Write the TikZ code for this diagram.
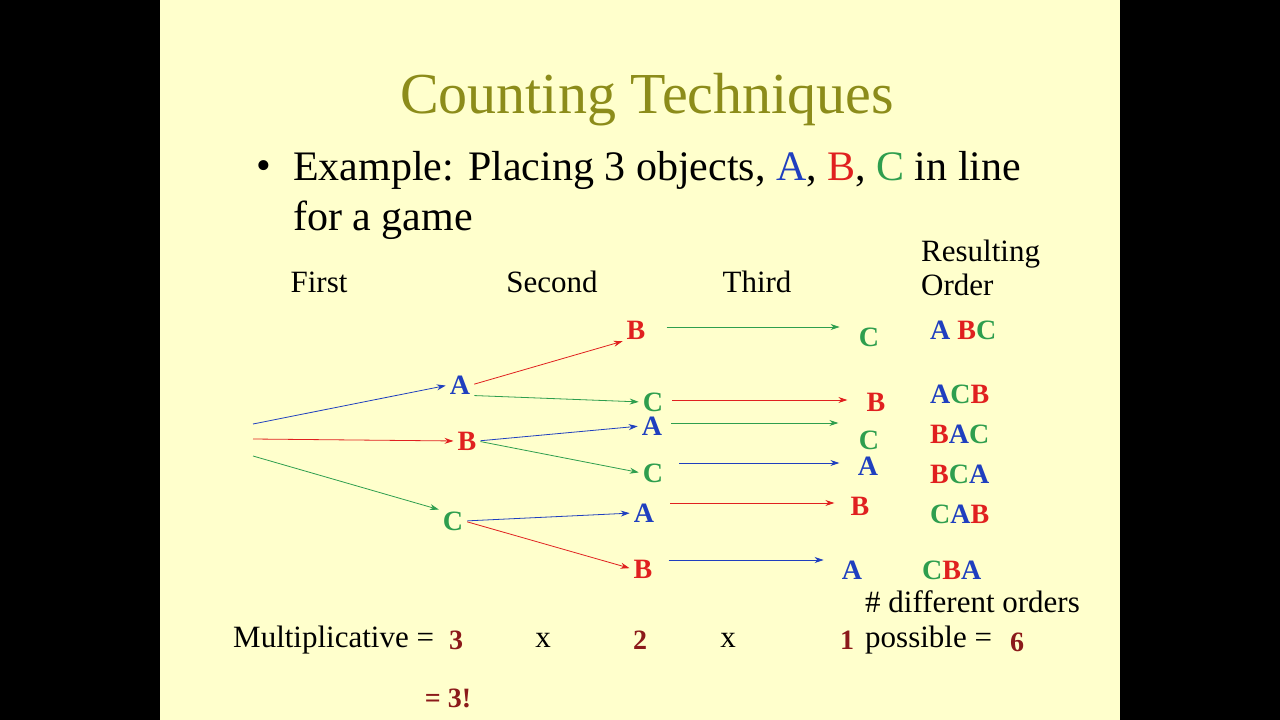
\documentclass[tikz,border=0pt]{standalone}
\usepackage{fontspec}
\setmainfont{Liberation Serif}
\usetikzlibrary{arrows.meta}
\definecolor{bg}{HTML}{FFFFCC}
\definecolor{olive}{HTML}{8C8C1A}
\definecolor{cb}{HTML}{1F3FBF}
\definecolor{cr}{HTML}{E0201F}
\definecolor{cg}{HTML}{2E9E4E}
\definecolor{dr}{HTML}{8B1A1A}
\begin{document}
\begin{tikzpicture}[x=1pt,y=-1pt,
  L/.style={font=\fontsize{28}{30}\selectfont\bfseries,inner sep=1pt},
  T/.style={font=\fontsize{31}{34}\selectfont,inner sep=0pt},
  B/.style={font=\fontsize{42}{46}\selectfont,inner sep=0pt,anchor=west},
  ar/.style={-{Stealth[length=9pt,width=6pt]},line width=0.8pt,shorten >=3pt,shorten <=3pt}]
\useasboundingbox (0,0) rectangle (1280,720);
\fill[black] (0,0) rectangle (1280,720);
\fill[bg] (160,0) rectangle (1120,720);
\node[text=olive,font=\fontsize{58}{62}\selectfont] (title) at (647,100) {Counting Techniques};
\node[B] (bul) at (256,170) {•};
\node[B] (b1) at (293,170) {Example: Placing 3 objects, \textcolor{cb}{A}, \textcolor{cr}{B}, \textcolor{cg}{C} in line};
\node[B] (b2) at (293,220) {for a game};
\node[T] (h1) at (319,282) {First};
\node[T] (h2) at (552,282) {Second};
\node[T] (h3) at (757,282) {Third};
\node[T,anchor=west,align=left] (h4) at (921,268) {Resulting\\Order};
\coordinate (r1) at (253,424);\coordinate (r2) at (253,439);\coordinate (r3) at (253,456);
\node[L,text=cb] (A1) at (460,385) {A};
\node[L,text=cr] (B1) at (467,441) {B};
\node[L,text=cg] (C1) at (453,521) {C};
\node[L,text=cr] (s1) at (636,330) {B};
\node[L,text=cg] (s2) at (653,402) {C};
\node[L,text=cb] (s3) at (652,426) {A};
\node[L,text=cg] (s4) at (653,473) {C};
\node[L,text=cb] (s5) at (644,513) {A};
\node[L,text=cr] (s6) at (643,569) {B};
\node[L,text=cg] (t1) at (869,337) {C};
\node[L,text=cr] (t2) at (876,402) {B};
\node[L,text=cg] (t3) at (869,440) {C};
\node[L,text=cb] (t4) at (868,466) {A};
\node[L,text=cr] (t5) at (860,506) {B};
\node[L,text=cb] (t6) at (852,570) {A};
\draw[ar,cb,shorten <=0pt] (r1) -- (A1.west);
\draw[ar,cr,shorten <=0pt] (r2) -- (B1.west);
\draw[ar,cg,shorten <=0pt] (r3) -- (C1.north west);
\draw[ar,cr] (A1.east) -- (s1.south west);
\draw[ar,cg] (A1.south east) -- (s2.west);
\draw[ar,cb] (B1.east) -- (s3.west);
\draw[ar,cg] (B1.east) -- (s4.west);
\draw[ar,cb] (C1.east) -- (s5.west);
\draw[ar,cr] (C1.east) -- (s6.west);
\draw[ar,cg,shorten <=0pt] (s1.east) ++(20,-3) -- ++(176,0);
\draw[ar,cr,shorten <=0pt] (s2.east) ++(8,-2) -- ++(178,0);
\draw[ar,cg,shorten <=0pt] (s3.east) ++(8,-3) -- ++(170,0);
\draw[ar,cb,shorten <=0pt] (s4.east) ++(15,-10) -- ++(163,0);
\draw[ar,cr,shorten <=0pt] (s5.east) ++(15,-10) -- ++(167,0);
\draw[ar,cb,shorten <=0pt] (s6.east) ++(15,-9) -- ++(158,0);
\node[L,anchor=west] (o1) at (929,330) {\textcolor{cb}{A} \textcolor{cr}{B}\textcolor{cg}{C}};
\node[L,anchor=west] (o2) at (929,394) {\textcolor{cb}{A}\textcolor{cg}{C}\textcolor{cr}{B}};
\node[L,anchor=west] (o3) at (929,434) {\textcolor{cr}{B}\textcolor{cb}{A}\textcolor{cg}{C}};
\node[L,anchor=west] (o4) at (929,474) {\textcolor{cr}{B}\textcolor{cg}{C}\textcolor{cb}{A}};
\node[L,anchor=west] (o5) at (929,514) {\textcolor{cg}{C}\textcolor{cb}{A}\textcolor{cr}{B}};
\node[L,anchor=west] (o6) at (921,570) {\textcolor{cg}{C}\textcolor{cr}{B}\textcolor{cb}{A}};
\node[T,anchor=west] (d) at (865,602) {\# different orders};
\node[T,anchor=west] (m) at (233,640) {Multiplicative =};
\node[L,text=dr] (n3) at (456,640) {3};
\node[T] (x1) at (543,640) {x};
\node[L,text=dr] (n2) at (640,640) {2};
\node[T] (x2) at (728,640) {x};
\node[L,text=dr] (n1) at (847,640) {1};
\node[T,anchor=west] (p) at (865,640) {possible =};
\node[L,text=dr] (n6) at (1017,642) {6};
\node[L,text=dr] (f) at (448,698) {= 3!};
\end{tikzpicture}
\end{document}
